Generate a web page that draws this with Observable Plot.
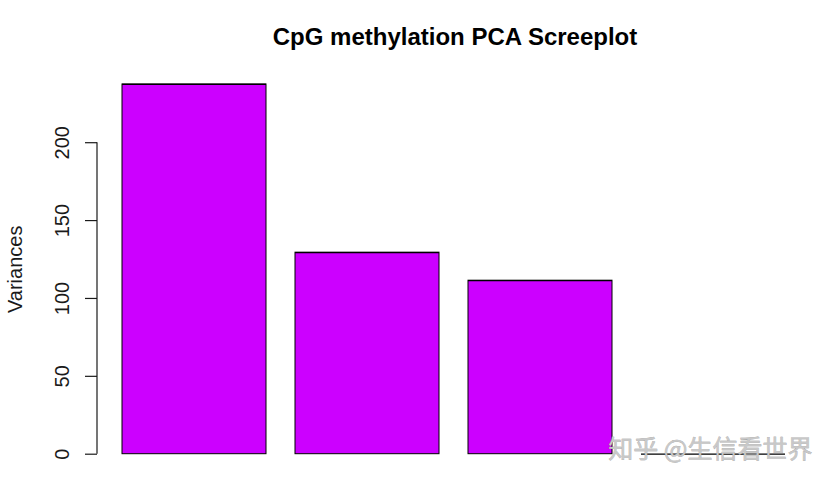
<!DOCTYPE html>
<html>
<head>
<meta charset="utf-8">
<script src="https://cdn.jsdelivr.net/npm/d3@7"></script>
<script src="https://cdn.jsdelivr.net/npm/@observablehq/plot@0.6"></script>
<style>
  html, body { margin: 0; padding: 0; background: #fff; }
  #chart svg { display: block; font-family: "Liberation Sans", Arial, sans-serif; }
</style>
</head>
<body>
<div id="chart"></div>
<script>
const components = ["PC1", "PC2", "PC3", "PC4"];
const variances = [237.4, 129.4, 111.4, 0];
const yTicks = [0, 50, 100, 150, 200];
const title = "CpG methylation PCA Screeplot";
const yLabel = "Variances";
const watermark = "知乎 @生信看世界";

const data = components.map((c, i) => ({pc: c, v: variances[i]}));

const axisLine = (index, scales) => {
  const g = d3.create("svg:g");
  const x0 = 97;
  g.append("line")
    .attr("x1", x0).attr("x2", x0)
    .attr("y1", scales.y(yTicks[0])).attr("y2", scales.y(yTicks[yTicks.length - 1]))
    .attr("stroke", "#1a1a1a").attr("stroke-width", 1.2);
  return g.node();
};

const chart = Plot.plot({
  width: 832,
  height: 481,
  marginLeft: 97,
  marginRight: 47,
  marginTop: 69,
  marginBottom: 27.3,
  style: {fontFamily: "Liberation Sans, Arial, sans-serif", background: "#fff"},
  x: {domain: components, paddingInner: 0.168, paddingOuter: 0.07, align: 1, axis: null},
  y: {domain: [0, 247], axis: null},
  marks: [
    Plot.barY(data, {x: "pc", y: "v", fill: "#CC00FF", stroke: "#000", strokeWidth: 1}),
    Plot.tickY(data, {x: "pc", y: "v", stroke: "#000", strokeWidth: 1.2}),
    Plot.axisY({ticks: yTicks, tickSize: 12, tickFormat: () => "", label: null, stroke: "#1a1a1a", strokeWidth: 1.2}),
    axisLine,
    Plot.text(yTicks, {y: d => d, text: d => String(d), frameAnchor: "left", dx: -35.3, rotate: -90, textAnchor: "middle", lineAnchor: "middle", fontSize: 20, fill: "#1a1a1a"}),
    Plot.text([yLabel], {frameAnchor: "left", dx: -82, dy: 7.5, rotate: -90, textAnchor: "middle", lineAnchor: "middle", fontSize: 20, fill: "#1a1a1a"}),
    Plot.text([title], {frameAnchor: "top", dx: 13.5, dy: -24.5, lineAnchor: "bottom", textAnchor: "middle", fontSize: 24, fontWeight: "bold", fill: "#000"}),
    Plot.text([watermark], {frameAnchor: "bottom-right", dx: 27, dy: -4, textAnchor: "end", lineAnchor: "middle", fontSize: 25, fontFamily: "Noto Sans CJK SC", fill: "#c8c8c8", stroke: "#8a8a8a", strokeWidth: 0.4})
  ]
});
document.getElementById("chart").appendChild(chart);
</script>
</body>
</html>
